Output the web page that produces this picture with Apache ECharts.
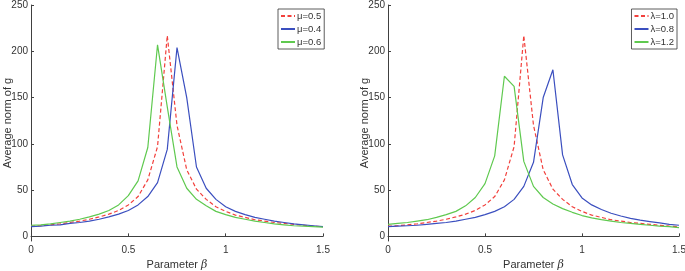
<!DOCTYPE html>
<html>
<head>
<meta charset="utf-8">
<script src="https://cdn.jsdelivr.net/npm/echarts@6/dist/echarts.min.js"></script>
<style>
  html, body { margin: 0; padding: 0; background: #fff; }
  #main { width: 685px; height: 271px; }
</style>
</head>
<body>
<div id="main"></div>
<script>
// beta = 0, 0.05, ..., 1.5
var betas = [0, 0.05, 0.1, 0.15, 0.2, 0.25, 0.3, 0.35, 0.4, 0.45, 0.5, 0.55, 0.6, 0.65, 0.7, 0.75,
             0.8, 0.85, 0.9, 0.95, 1.0, 1.05, 1.1, 1.15, 1.2, 1.25, 1.3, 1.35, 1.4, 1.45, 1.5];

// left panel (mu)
var mu05 = [11, 11.5, 12.5, 13.5, 15, 16.5, 18.5, 21, 24, 28, 34, 43, 61, 97, 217, 120,
            72, 51, 40, 32, 27, 23, 20.5, 18, 16.5, 15, 14, 13, 12, 11, 10.5];
var mu04 = [10.5, 11, 12, 12.5, 14, 15, 16.5, 18.5, 21, 24, 28, 34, 43, 58, 94, 204,
            150, 75, 52, 40, 32, 27, 23.5, 20.5, 18.5, 16.5, 15, 13.5, 12.5, 11.5, 10.5];
var mu06 = [12, 12.5, 13.5, 15, 16.5, 18.5, 21, 24, 28, 34, 44, 60, 96, 207, 140, 75,
            52, 40, 33, 27, 23.5, 20.5, 18.5, 16.5, 15, 13.5, 12.5, 11.5, 11, 10.5, 10];

// right panel (lambda)
var lam10 = mu05;
var lam08 = [10.5, 11, 11.5, 12, 13, 14, 15, 16.5, 18.5, 20.5, 23.5, 27, 32, 40, 54, 80,
             150, 180, 88, 56, 41.5, 34, 29, 25, 22, 19.5, 17.5, 16, 14.5, 13, 12];
var lam12 = [13, 14, 15, 16.5, 18, 20.5, 23.5, 27, 33, 42, 57, 87, 173, 162, 81, 54,
             42, 35, 30, 26, 22.5, 20, 18, 16.5, 15, 14, 13, 12, 11, 10.5, 9.5];

var yTicks = [0, 50, 100, 150, 200, 250];
var xTicks = [0, 0.5, 1, 1.5];

var RED = '#f2403c', BLUE = '#3b4fbf', GREEN = '#5fc94f';
var AXIS = '#404040';

function pairs(vals) {
  return betas.map(function (b, i) { return [b, vals[i]]; });
}

function makeX(idx) {
  return {
    gridIndex: idx, type: 'value', min: 0, max: 1.5,
    name: 'Parameter {i|β}', nameLocation: 'middle', nameGap: 18,
    nameTextStyle: { fontSize: 11, color: '#333', fontFamily: 'Liberation Sans',
      rich: { i: { fontStyle: 'italic', fontSize: 11, fontFamily: 'DejaVu Serif', color: '#333' } } },
    axisLine: { lineStyle: { color: AXIS, width: 1 } },
    axisTick: { inside: true, length: 3, customValues: xTicks, lineStyle: { color: AXIS } },
    axisLabel: { customValues: xTicks, fontSize: 10, color: '#333', margin: 4, fontFamily: 'Liberation Sans' },
    splitLine: { show: false }
  };
}

function makeY(idx) {
  return {
    gridIndex: idx, type: 'value', min: -5, max: 250,
    name: 'Average norm of g', nameLocation: 'middle', nameGap: 18, nameMoveOverlap: false,
    nameTextStyle: { fontSize: 11, color: '#333', fontFamily: 'Liberation Sans' },
    axisLine: { show: true, lineStyle: { color: AXIS, width: 1 } },
    axisTick: { show: true, inside: true, length: 3, customValues: yTicks, lineStyle: { color: AXIS } },
    axisLabel: { customValues: yTicks, fontSize: 10, color: '#333', margin: 3, fontFamily: 'Liberation Sans' },
    splitLine: { show: false }
  };
}

function line(name, vals, color, idx, dashed) {
  return {
    name: name, type: 'line', xAxisIndex: idx, yAxisIndex: idx,
    data: pairs(vals), symbol: 'none', animation: false,
    lineStyle: { color: color, width: 1.2, type: dashed ? [4, 2.5] : 'solid' },
    itemStyle: { color: color }
  };
}

function legend(idx, names, pos) {
  return Object.assign({
    orient: 'vertical', top: 9, data: names,
    padding: [2, 3, 2, 2], itemGap: 3, itemWidth: 14, itemHeight: 8,
    borderColor: '#333', borderWidth: 0.8, borderRadius: 0, backgroundColor: '#fff',
    itemStyle: { opacity: 0 },
    textStyle: { fontSize: 9.5, color: '#333', fontFamily: 'Liberation Sans', padding: [0, 0, 0, -3] }
  }, pos);
}

var chart = echarts.init(document.getElementById('main'));
chart.setOption({
  backgroundColor: '#fff',
  animation: false,
  grid: [
    { left: 31, top: 5, width: 292, height: 236, outerBoundsMode: 'none' },
    { left: 388, top: 5, width: 291, height: 236, outerBoundsMode: 'none' }
  ],
  legend: [
    legend(0, ['μ=0.5', 'μ=0.4', 'μ=0.6'], { left: 278 }),
    legend(1, ['λ=1.0', 'λ=0.8', 'λ=1.2'], { right: 8 })
  ],
  xAxis: [makeX(0), makeX(1)],
  yAxis: [makeY(0), makeY(1)],
  series: [
    line('μ=0.5', mu05, RED, 0, true),
    line('μ=0.4', mu04, BLUE, 0, false),
    line('μ=0.6', mu06, GREEN, 0, false),
    line('λ=1.0', lam10, RED, 1, true),
    line('λ=0.8', lam08, BLUE, 1, false),
    line('λ=1.2', lam12, GREEN, 1, false)
  ]
});
</script>
</body>
</html>
